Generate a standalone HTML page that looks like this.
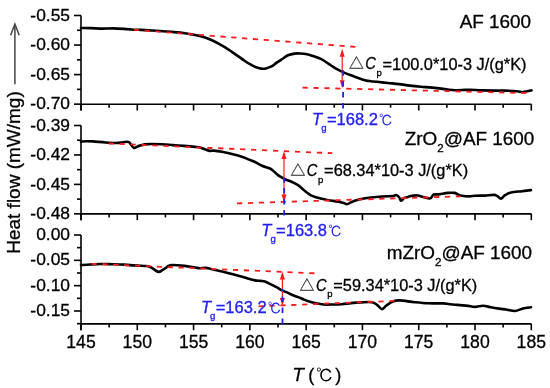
<!DOCTYPE html><html><head><meta charset="utf-8"><style>html,body{margin:0;padding:0;background:#fff;overflow:hidden}svg{display:block}</style></head><body>
<svg width="550" height="388" viewBox="0 0 550 388">
<rect width="550" height="388" fill="#fff"/>
<path d="M81.00,28.00 C82.67,28.02 87.50,28.00 91.00,28.10 C94.50,28.20 98.33,28.55 102.00,28.60 C105.67,28.65 109.33,28.35 113.00,28.40 C116.67,28.45 121.17,28.73 124.00,28.90 C126.83,29.07 128.17,29.25 130.00,29.40 C131.83,29.55 133.17,29.73 135.00,29.80 C136.83,29.88 138.17,29.73 141.00,29.85 C143.83,29.97 148.33,30.26 152.00,30.50 C155.67,30.74 159.33,31.03 163.00,31.30 C166.67,31.57 170.33,31.78 174.00,32.10 C177.67,32.42 182.33,32.87 185.00,33.20 C187.67,33.53 187.33,33.58 190.00,34.10 C192.67,34.62 197.33,35.27 201.00,36.30 C204.67,37.33 208.33,38.65 212.00,40.30 C215.67,41.95 219.33,44.03 223.00,46.20 C226.67,48.37 230.42,50.88 234.00,53.30 C237.58,55.72 241.83,58.88 244.50,60.70 C247.17,62.52 248.17,63.15 250.00,64.20 C251.83,65.25 253.67,66.27 255.50,67.00 C257.33,67.73 259.25,68.37 261.00,68.60 C262.75,68.83 264.17,68.80 266.00,68.40 C267.83,68.00 270.17,67.20 272.00,66.20 C273.83,65.20 275.17,63.68 277.00,62.40 C278.83,61.12 281.17,59.68 283.00,58.50 C284.83,57.32 286.08,56.12 288.00,55.30 C289.92,54.48 292.50,53.90 294.50,53.60 C296.50,53.30 297.92,53.40 300.00,53.50 C302.08,53.60 304.67,53.73 307.00,54.20 C309.33,54.67 311.62,55.48 314.00,56.30 C316.38,57.12 318.97,57.92 321.30,59.10 C323.63,60.28 325.63,61.85 328.00,63.40 C330.37,64.95 333.08,66.98 335.50,68.40 C337.92,69.82 340.15,70.83 342.50,71.90 C344.85,72.97 347.23,73.88 349.60,74.80 C351.97,75.72 353.97,76.45 356.70,77.40 C359.43,78.35 363.62,79.87 366.00,80.50 C368.38,81.13 369.17,80.98 371.00,81.20 C372.83,81.42 374.17,81.50 377.00,81.80 C379.83,82.10 384.33,82.62 388.00,83.00 C391.67,83.38 395.33,83.67 399.00,84.10 C402.67,84.53 406.33,85.17 410.00,85.60 C413.67,86.03 417.33,86.37 421.00,86.70 C424.67,87.03 428.33,87.23 432.00,87.60 C435.67,87.97 440.17,88.53 443.00,88.90 C445.83,89.27 447.00,89.58 449.00,89.80 C451.00,90.02 452.33,90.18 455.00,90.20 C457.67,90.22 462.50,89.97 465.00,89.90 C467.50,89.83 467.17,89.72 470.00,89.80 C472.83,89.88 478.00,90.27 482.00,90.40 C486.00,90.53 490.17,90.57 494.00,90.60 C497.83,90.63 501.17,90.50 505.00,90.60 C508.83,90.70 514.17,90.95 517.00,91.20 C519.83,91.45 520.33,92.10 522.00,92.10 C523.67,92.10 525.42,91.48 527.00,91.20 C528.58,90.92 530.75,90.53 531.50,90.40" fill="none" stroke="#000" stroke-width="2.6" stroke-linejoin="round" stroke-linecap="round"/>
<path d="M81.00,141.60 C81.90,141.53 84.45,141.23 86.40,141.20 C88.35,141.17 89.52,141.18 92.70,141.40 C95.88,141.62 101.68,142.23 105.50,142.50 C109.32,142.77 112.85,143.00 115.60,143.00 C118.35,143.00 120.10,142.72 122.00,142.50 C123.90,142.28 125.75,141.70 127.00,141.70 C128.25,141.70 128.83,142.02 129.50,142.50 C130.17,142.98 130.25,143.70 131.00,144.60 C131.75,145.50 132.95,147.57 134.00,147.90 C135.05,148.23 136.30,146.98 137.30,146.60 C138.30,146.22 138.72,145.97 140.00,145.60 C141.28,145.23 143.17,144.67 145.00,144.40 C146.83,144.13 148.17,144.02 151.00,144.00 C153.83,143.98 158.33,144.12 162.00,144.30 C165.67,144.48 169.33,144.83 173.00,145.10 C176.67,145.37 180.33,145.60 184.00,145.90 C187.67,146.20 192.33,146.62 195.00,146.90 C197.67,147.18 198.25,147.15 200.00,147.60 C201.75,148.05 203.87,149.05 205.50,149.60 C207.13,150.15 208.38,150.73 209.80,150.90 C211.22,151.07 211.97,150.45 214.00,150.60 C216.03,150.75 218.83,151.20 222.00,151.80 C225.17,152.40 229.33,153.27 233.00,154.20 C236.67,155.13 241.33,156.50 244.00,157.40 C246.67,158.30 247.17,158.83 249.00,159.60 C250.83,160.37 252.83,160.97 255.00,162.00 C257.17,163.03 259.50,164.72 262.00,165.80 C264.50,166.88 268.00,167.53 270.00,168.50 C272.00,169.47 272.67,170.50 274.00,171.60 C275.33,172.70 276.50,174.00 278.00,175.10 C279.50,176.20 281.67,177.43 283.00,178.20 C284.33,178.97 284.50,179.07 286.00,179.70 C287.50,180.33 290.00,181.10 292.00,182.00 C294.00,182.90 296.33,184.03 298.00,185.10 C299.67,186.17 300.75,187.33 302.00,188.40 C303.25,189.47 304.00,190.35 305.50,191.50 C307.00,192.65 309.25,194.35 311.00,195.30 C312.75,196.25 314.17,196.62 316.00,197.20 C317.83,197.78 320.17,198.33 322.00,198.80 C323.83,199.27 325.17,199.65 327.00,200.00 C328.83,200.35 331.17,200.60 333.00,200.90 C334.83,201.20 336.23,201.47 338.00,201.80 C339.77,202.13 342.10,202.50 343.60,202.90 C345.10,203.30 345.77,204.28 347.00,204.20 C348.23,204.12 349.58,203.02 351.00,202.40 C352.42,201.78 354.00,201.03 355.50,200.50 C357.00,199.97 357.42,199.70 360.00,199.20 C362.58,198.70 367.33,197.95 371.00,197.50 C374.67,197.05 378.33,196.73 382.00,196.50 C385.67,196.27 390.67,196.35 393.00,196.10 C395.33,195.85 395.00,194.85 396.00,195.00 C397.00,195.15 398.17,196.03 399.00,197.00 C399.83,197.97 400.17,200.60 401.00,200.80 C401.83,201.00 402.83,198.85 404.00,198.20 C405.17,197.55 406.67,197.32 408.00,196.90 C409.33,196.48 410.33,195.93 412.00,195.70 C413.67,195.47 416.33,195.32 418.00,195.50 C419.67,195.68 420.67,196.42 422.00,196.80 C423.33,197.18 424.83,197.52 426.00,197.80 C427.17,198.08 428.17,198.47 429.00,198.50 C429.83,198.53 430.25,198.63 431.00,198.00 C431.75,197.37 432.50,195.30 433.50,194.70 C434.50,194.10 435.92,194.50 437.00,194.40 C438.08,194.30 438.17,194.35 440.00,194.10 C441.83,193.85 445.58,193.10 448.00,192.90 C450.42,192.70 452.92,192.67 454.50,192.90 C456.08,193.13 456.25,193.82 457.50,194.30 C458.75,194.78 460.08,195.45 462.00,195.80 C463.92,196.15 466.83,196.40 469.00,196.40 C471.17,196.40 473.17,195.93 475.00,195.80 C476.83,195.67 478.33,195.63 480.00,195.60 C481.67,195.57 482.67,195.72 485.00,195.60 C487.33,195.48 491.92,194.80 494.00,194.90 C496.08,195.00 496.33,195.58 497.50,196.20 C498.67,196.82 499.75,198.77 501.00,198.60 C502.25,198.43 503.33,196.23 505.00,195.20 C506.67,194.17 508.17,193.07 511.00,192.40 C513.83,191.73 518.67,191.58 522.00,191.20 C525.33,190.82 529.50,190.28 531.00,190.10" fill="none" stroke="#000" stroke-width="2.6" stroke-linejoin="round" stroke-linecap="round"/>
<path d="M81.00,265.10 C82.50,265.00 86.67,264.68 90.00,264.50 C93.33,264.32 97.33,264.05 101.00,264.00 C104.67,263.95 108.17,264.10 112.00,264.20 C115.83,264.30 120.33,264.40 124.00,264.60 C127.67,264.80 131.33,265.22 134.00,265.40 C136.67,265.58 138.17,265.60 140.00,265.70 C141.83,265.80 143.50,265.87 145.00,266.00 C146.50,266.13 147.67,266.07 149.00,266.50 C150.33,266.93 151.42,267.70 153.00,268.60 C154.58,269.50 156.83,271.72 158.50,271.90 C160.17,272.08 161.33,270.68 163.00,269.70 C164.67,268.72 167.00,266.78 168.50,266.00 C170.00,265.22 169.33,265.02 172.00,265.00 C174.67,264.98 180.67,265.48 184.50,265.90 C188.33,266.32 192.42,267.12 195.00,267.50 C197.58,267.88 198.25,268.13 200.00,268.20 C201.75,268.27 203.67,267.78 205.50,267.90 C207.33,268.02 208.25,268.30 211.00,268.90 C213.75,269.50 218.33,270.62 222.00,271.50 C225.67,272.38 229.33,273.25 233.00,274.20 C236.67,275.15 241.25,276.38 244.00,277.20 C246.75,278.02 247.67,278.57 249.50,279.10 C251.33,279.63 253.17,280.10 255.00,280.40 C256.83,280.70 258.83,280.73 260.50,280.90 C262.17,281.07 263.25,280.82 265.00,281.40 C266.75,281.98 269.00,283.40 271.00,284.40 C273.00,285.40 275.17,286.40 277.00,287.40 C278.83,288.40 280.17,289.48 282.00,290.40 C283.83,291.32 286.17,292.08 288.00,292.90 C289.83,293.72 291.17,294.55 293.00,295.30 C294.83,296.05 297.17,296.68 299.00,297.40 C300.83,298.12 302.17,298.87 304.00,299.60 C305.83,300.33 308.17,301.22 310.00,301.80 C311.83,302.38 312.73,302.65 315.00,303.10 C317.27,303.55 320.65,304.27 323.60,304.50 C326.55,304.73 329.67,304.55 332.70,304.50 C335.73,304.45 338.77,304.43 341.80,304.20 C344.83,303.97 347.72,303.40 350.90,303.10 C354.08,302.80 357.42,302.55 360.90,302.40 C364.38,302.25 369.07,301.75 371.80,302.20 C374.53,302.65 375.63,303.95 377.30,305.10 C378.97,306.25 380.28,309.03 381.80,309.10 C383.32,309.17 384.58,306.77 386.40,305.50 C388.22,304.23 390.50,302.35 392.70,301.50 C394.90,300.65 395.97,300.28 399.60,300.40 C403.23,300.52 409.77,301.72 414.50,302.20 C419.23,302.68 423.15,303.10 428.00,303.30 C432.85,303.50 439.93,303.23 443.60,303.40 C447.27,303.57 446.27,303.93 450.00,304.30 C453.73,304.67 461.92,305.17 466.00,305.60 C470.08,306.03 471.67,306.88 474.50,306.90 C477.33,306.92 480.25,305.63 483.00,305.70 C485.75,305.77 488.33,306.82 491.00,307.30 C493.67,307.78 496.33,308.20 499.00,308.60 C501.67,309.00 504.33,309.30 507.00,309.70 C509.67,310.10 512.33,311.20 515.00,311.00 C517.67,310.80 520.33,309.12 523.00,308.50 C525.67,307.88 529.67,307.50 531.00,307.30" fill="none" stroke="#000" stroke-width="2.6" stroke-linejoin="round" stroke-linecap="round"/>
<line x1="133.9" y1="29.8" x2="357.9" y2="47.1" stroke="#ff1a1a" stroke-width="1.8" stroke-dasharray="5.2 5.65"/>
<line x1="302.5" y1="87.6" x2="526.5" y2="93.1" stroke="#ff1a1a" stroke-width="1.8" stroke-dasharray="5.2 5.73"/>
<line x1="108.6" y1="143.5" x2="332.2" y2="153.2" stroke="#ff1a1a" stroke-width="1.8" stroke-dasharray="5.2 5.77"/>
<line x1="237.0" y1="203.4" x2="460.6" y2="196.3" stroke="#ff1a1a" stroke-width="1.8" stroke-dasharray="5.2 5.75"/>
<line x1="91.4" y1="263.8" x2="315.5" y2="273.3" stroke="#ff1a1a" stroke-width="1.8" stroke-dasharray="5.2 5.70"/>
<line x1="258.6" y1="306.3" x2="394.6" y2="300.9" stroke="#ff1a1a" stroke-width="1.8" stroke-dasharray="5.2 5.70"/>
<line x1="81" y1="15.5" x2="81" y2="110.5" stroke="#000" stroke-width="1.6"/>
<line x1="80.2" y1="104.2" x2="531.5" y2="104.2" stroke="#000" stroke-width="1.6"/>
<line x1="74" y1="15.50" x2="81" y2="15.50" stroke="#000" stroke-width="1.6"/>
<line x1="77" y1="30.27" x2="81" y2="30.27" stroke="#000" stroke-width="1.6"/>
<line x1="74" y1="45.05" x2="81" y2="45.05" stroke="#000" stroke-width="1.6"/>
<line x1="77" y1="59.82" x2="81" y2="59.82" stroke="#000" stroke-width="1.6"/>
<line x1="74" y1="74.60" x2="81" y2="74.60" stroke="#000" stroke-width="1.6"/>
<line x1="77" y1="89.38" x2="81" y2="89.38" stroke="#000" stroke-width="1.6"/>
<line x1="74" y1="104.15" x2="81" y2="104.15" stroke="#000" stroke-width="1.6"/>
<text x="70" y="20.60" text-anchor="end" font-family='"Liberation Sans", Arial, "Noto Sans CJK SC", sans-serif' font-size="17.4" fill="#000" stroke="#000" stroke-width="0.3">-0.55</text>
<text x="70" y="50.15" text-anchor="end" font-family='"Liberation Sans", Arial, "Noto Sans CJK SC", sans-serif' font-size="17.4" fill="#000" stroke="#000" stroke-width="0.3">-0.60</text>
<text x="70" y="79.70" text-anchor="end" font-family='"Liberation Sans", Arial, "Noto Sans CJK SC", sans-serif' font-size="17.4" fill="#000" stroke="#000" stroke-width="0.3">-0.65</text>
<text x="70" y="109.25" text-anchor="end" font-family='"Liberation Sans", Arial, "Noto Sans CJK SC", sans-serif' font-size="17.4" fill="#000" stroke="#000" stroke-width="0.3">-0.70</text>
<line x1="81.00" y1="104.2" x2="81.00" y2="110.5" stroke="#000" stroke-width="1.6"/>
<line x1="109.14" y1="104.2" x2="109.14" y2="107.7" stroke="#000" stroke-width="1.6"/>
<line x1="137.29" y1="104.2" x2="137.29" y2="110.5" stroke="#000" stroke-width="1.6"/>
<line x1="165.43" y1="104.2" x2="165.43" y2="107.7" stroke="#000" stroke-width="1.6"/>
<line x1="193.57" y1="104.2" x2="193.57" y2="110.5" stroke="#000" stroke-width="1.6"/>
<line x1="221.72" y1="104.2" x2="221.72" y2="107.7" stroke="#000" stroke-width="1.6"/>
<line x1="249.86" y1="104.2" x2="249.86" y2="110.5" stroke="#000" stroke-width="1.6"/>
<line x1="278.01" y1="104.2" x2="278.01" y2="107.7" stroke="#000" stroke-width="1.6"/>
<line x1="306.15" y1="104.2" x2="306.15" y2="110.5" stroke="#000" stroke-width="1.6"/>
<line x1="334.29" y1="104.2" x2="334.29" y2="107.7" stroke="#000" stroke-width="1.6"/>
<line x1="362.44" y1="104.2" x2="362.44" y2="110.5" stroke="#000" stroke-width="1.6"/>
<line x1="390.58" y1="104.2" x2="390.58" y2="107.7" stroke="#000" stroke-width="1.6"/>
<line x1="418.73" y1="104.2" x2="418.73" y2="110.5" stroke="#000" stroke-width="1.6"/>
<line x1="446.87" y1="104.2" x2="446.87" y2="107.7" stroke="#000" stroke-width="1.6"/>
<line x1="475.01" y1="104.2" x2="475.01" y2="110.5" stroke="#000" stroke-width="1.6"/>
<line x1="503.16" y1="104.2" x2="503.16" y2="107.7" stroke="#000" stroke-width="1.6"/>
<line x1="531.30" y1="104.2" x2="531.30" y2="110.5" stroke="#000" stroke-width="1.6"/>
<line x1="81" y1="125.5" x2="81" y2="220.20000000000002" stroke="#000" stroke-width="1.6"/>
<line x1="80.2" y1="213.9" x2="531.5" y2="213.9" stroke="#000" stroke-width="1.6"/>
<line x1="74" y1="125.50" x2="81" y2="125.50" stroke="#000" stroke-width="1.6"/>
<line x1="77" y1="140.22" x2="81" y2="140.22" stroke="#000" stroke-width="1.6"/>
<line x1="74" y1="154.95" x2="81" y2="154.95" stroke="#000" stroke-width="1.6"/>
<line x1="77" y1="169.67" x2="81" y2="169.67" stroke="#000" stroke-width="1.6"/>
<line x1="74" y1="184.40" x2="81" y2="184.40" stroke="#000" stroke-width="1.6"/>
<line x1="77" y1="199.12" x2="81" y2="199.12" stroke="#000" stroke-width="1.6"/>
<line x1="74" y1="213.85" x2="81" y2="213.85" stroke="#000" stroke-width="1.6"/>
<text x="70" y="130.60" text-anchor="end" font-family='"Liberation Sans", Arial, "Noto Sans CJK SC", sans-serif' font-size="17.4" fill="#000" stroke="#000" stroke-width="0.3">-0.39</text>
<text x="70" y="160.05" text-anchor="end" font-family='"Liberation Sans", Arial, "Noto Sans CJK SC", sans-serif' font-size="17.4" fill="#000" stroke="#000" stroke-width="0.3">-0.42</text>
<text x="70" y="189.50" text-anchor="end" font-family='"Liberation Sans", Arial, "Noto Sans CJK SC", sans-serif' font-size="17.4" fill="#000" stroke="#000" stroke-width="0.3">-0.45</text>
<text x="70" y="218.95" text-anchor="end" font-family='"Liberation Sans", Arial, "Noto Sans CJK SC", sans-serif' font-size="17.4" fill="#000" stroke="#000" stroke-width="0.3">-0.48</text>
<line x1="81.00" y1="213.9" x2="81.00" y2="220.20000000000002" stroke="#000" stroke-width="1.6"/>
<line x1="109.14" y1="213.9" x2="109.14" y2="217.4" stroke="#000" stroke-width="1.6"/>
<line x1="137.29" y1="213.9" x2="137.29" y2="220.20000000000002" stroke="#000" stroke-width="1.6"/>
<line x1="165.43" y1="213.9" x2="165.43" y2="217.4" stroke="#000" stroke-width="1.6"/>
<line x1="193.57" y1="213.9" x2="193.57" y2="220.20000000000002" stroke="#000" stroke-width="1.6"/>
<line x1="221.72" y1="213.9" x2="221.72" y2="217.4" stroke="#000" stroke-width="1.6"/>
<line x1="249.86" y1="213.9" x2="249.86" y2="220.20000000000002" stroke="#000" stroke-width="1.6"/>
<line x1="278.01" y1="213.9" x2="278.01" y2="217.4" stroke="#000" stroke-width="1.6"/>
<line x1="306.15" y1="213.9" x2="306.15" y2="220.20000000000002" stroke="#000" stroke-width="1.6"/>
<line x1="334.29" y1="213.9" x2="334.29" y2="217.4" stroke="#000" stroke-width="1.6"/>
<line x1="362.44" y1="213.9" x2="362.44" y2="220.20000000000002" stroke="#000" stroke-width="1.6"/>
<line x1="390.58" y1="213.9" x2="390.58" y2="217.4" stroke="#000" stroke-width="1.6"/>
<line x1="418.73" y1="213.9" x2="418.73" y2="220.20000000000002" stroke="#000" stroke-width="1.6"/>
<line x1="446.87" y1="213.9" x2="446.87" y2="217.4" stroke="#000" stroke-width="1.6"/>
<line x1="475.01" y1="213.9" x2="475.01" y2="220.20000000000002" stroke="#000" stroke-width="1.6"/>
<line x1="503.16" y1="213.9" x2="503.16" y2="217.4" stroke="#000" stroke-width="1.6"/>
<line x1="531.30" y1="213.9" x2="531.30" y2="220.20000000000002" stroke="#000" stroke-width="1.6"/>
<line x1="81" y1="235.0" x2="81" y2="330.2" stroke="#000" stroke-width="1.6"/>
<line x1="80.2" y1="323.9" x2="531.5" y2="323.9" stroke="#000" stroke-width="1.6"/>
<line x1="74" y1="235.00" x2="81" y2="235.00" stroke="#000" stroke-width="1.6"/>
<line x1="77" y1="247.66" x2="81" y2="247.66" stroke="#000" stroke-width="1.6"/>
<line x1="74" y1="260.33" x2="81" y2="260.33" stroke="#000" stroke-width="1.6"/>
<line x1="77" y1="273.00" x2="81" y2="273.00" stroke="#000" stroke-width="1.6"/>
<line x1="74" y1="285.66" x2="81" y2="285.66" stroke="#000" stroke-width="1.6"/>
<line x1="77" y1="298.33" x2="81" y2="298.33" stroke="#000" stroke-width="1.6"/>
<line x1="74" y1="310.99" x2="81" y2="310.99" stroke="#000" stroke-width="1.6"/>
<line x1="77" y1="323.66" x2="81" y2="323.66" stroke="#000" stroke-width="1.6"/>
<text x="70" y="240.10" text-anchor="end" font-family='"Liberation Sans", Arial, "Noto Sans CJK SC", sans-serif' font-size="17.4" fill="#000" stroke="#000" stroke-width="0.3">0.00</text>
<text x="70" y="265.43" text-anchor="end" font-family='"Liberation Sans", Arial, "Noto Sans CJK SC", sans-serif' font-size="17.4" fill="#000" stroke="#000" stroke-width="0.3">-0.05</text>
<text x="70" y="290.76" text-anchor="end" font-family='"Liberation Sans", Arial, "Noto Sans CJK SC", sans-serif' font-size="17.4" fill="#000" stroke="#000" stroke-width="0.3">-0.10</text>
<text x="70" y="316.09" text-anchor="end" font-family='"Liberation Sans", Arial, "Noto Sans CJK SC", sans-serif' font-size="17.4" fill="#000" stroke="#000" stroke-width="0.3">-0.15</text>
<line x1="81.00" y1="323.9" x2="81.00" y2="330.2" stroke="#000" stroke-width="1.6"/>
<line x1="109.14" y1="323.9" x2="109.14" y2="327.4" stroke="#000" stroke-width="1.6"/>
<line x1="137.29" y1="323.9" x2="137.29" y2="330.2" stroke="#000" stroke-width="1.6"/>
<line x1="165.43" y1="323.9" x2="165.43" y2="327.4" stroke="#000" stroke-width="1.6"/>
<line x1="193.57" y1="323.9" x2="193.57" y2="330.2" stroke="#000" stroke-width="1.6"/>
<line x1="221.72" y1="323.9" x2="221.72" y2="327.4" stroke="#000" stroke-width="1.6"/>
<line x1="249.86" y1="323.9" x2="249.86" y2="330.2" stroke="#000" stroke-width="1.6"/>
<line x1="278.01" y1="323.9" x2="278.01" y2="327.4" stroke="#000" stroke-width="1.6"/>
<line x1="306.15" y1="323.9" x2="306.15" y2="330.2" stroke="#000" stroke-width="1.6"/>
<line x1="334.29" y1="323.9" x2="334.29" y2="327.4" stroke="#000" stroke-width="1.6"/>
<line x1="362.44" y1="323.9" x2="362.44" y2="330.2" stroke="#000" stroke-width="1.6"/>
<line x1="390.58" y1="323.9" x2="390.58" y2="327.4" stroke="#000" stroke-width="1.6"/>
<line x1="418.73" y1="323.9" x2="418.73" y2="330.2" stroke="#000" stroke-width="1.6"/>
<line x1="446.87" y1="323.9" x2="446.87" y2="327.4" stroke="#000" stroke-width="1.6"/>
<line x1="475.01" y1="323.9" x2="475.01" y2="330.2" stroke="#000" stroke-width="1.6"/>
<line x1="503.16" y1="323.9" x2="503.16" y2="327.4" stroke="#000" stroke-width="1.6"/>
<line x1="531.30" y1="323.9" x2="531.30" y2="330.2" stroke="#000" stroke-width="1.6"/>
<text x="81.00" y="348" text-anchor="middle" font-family='"Liberation Sans", Arial, "Noto Sans CJK SC", sans-serif' font-size="17.6" fill="#000" stroke="#000" stroke-width="0.3">145</text>
<text x="137.29" y="348" text-anchor="middle" font-family='"Liberation Sans", Arial, "Noto Sans CJK SC", sans-serif' font-size="17.6" fill="#000" stroke="#000" stroke-width="0.3">150</text>
<text x="193.57" y="348" text-anchor="middle" font-family='"Liberation Sans", Arial, "Noto Sans CJK SC", sans-serif' font-size="17.6" fill="#000" stroke="#000" stroke-width="0.3">155</text>
<text x="249.86" y="348" text-anchor="middle" font-family='"Liberation Sans", Arial, "Noto Sans CJK SC", sans-serif' font-size="17.6" fill="#000" stroke="#000" stroke-width="0.3">160</text>
<text x="306.15" y="348" text-anchor="middle" font-family='"Liberation Sans", Arial, "Noto Sans CJK SC", sans-serif' font-size="17.6" fill="#000" stroke="#000" stroke-width="0.3">165</text>
<text x="362.44" y="348" text-anchor="middle" font-family='"Liberation Sans", Arial, "Noto Sans CJK SC", sans-serif' font-size="17.6" fill="#000" stroke="#000" stroke-width="0.3">170</text>
<text x="418.73" y="348" text-anchor="middle" font-family='"Liberation Sans", Arial, "Noto Sans CJK SC", sans-serif' font-size="17.6" fill="#000" stroke="#000" stroke-width="0.3">175</text>
<text x="475.01" y="348" text-anchor="middle" font-family='"Liberation Sans", Arial, "Noto Sans CJK SC", sans-serif' font-size="17.6" fill="#000" stroke="#000" stroke-width="0.3">180</text>
<text x="531.30" y="348" text-anchor="middle" font-family='"Liberation Sans", Arial, "Noto Sans CJK SC", sans-serif' font-size="17.6" fill="#000" stroke="#000" stroke-width="0.3">185</text>
<text x="531.1" y="27.75" text-anchor="end" font-family='"Liberation Sans", Arial, "Noto Sans CJK SC", sans-serif' font-size="18.9" fill="#000" stroke="#000" stroke-width="0.3">AF 1600</text>
<text x="534.3" y="145" text-anchor="end" font-family='"Liberation Sans", Arial, "Noto Sans CJK SC", sans-serif' font-size="18.9" fill="#000" stroke="#000" stroke-width="0.3">ZrO<tspan font-size="11.6" dy="7.2">2</tspan><tspan dy="-7.2">@AF 1600</tspan></text>
<text x="532.1" y="259" text-anchor="end" font-family='"Liberation Sans", Arial, "Noto Sans CJK SC", sans-serif' font-size="18.9" fill="#000" stroke="#000" stroke-width="0.3">mZrO<tspan font-size="11.6" dy="7.2">2</tspan><tspan dy="-7.2">@AF 1600</tspan></text>
<text transform="translate(348.88,68.30) scale(1,0.885)" font-family='"Noto Sans CJK SC", sans-serif' font-size="14.85" fill="#444" stroke="#444" stroke-width="0.35">△</text><text transform="translate(365.20,69.30) scale(0.9,1)" font-family='"Liberation Sans", Arial, "Noto Sans CJK SC", sans-serif' font-size="16.35" font-style="italic" fill="#000" stroke="#000" stroke-width="0.3">C</text><text x="376.40" y="75.90" font-family='"Liberation Sans", Arial, "Noto Sans CJK SC", sans-serif' font-size="9.5" fill="#000" stroke="#000" stroke-width="0.3">p</text><text x="382.50" y="69.50" font-family='"Liberation Sans", Arial, "Noto Sans CJK SC", sans-serif' font-size="16.35" fill="#000" stroke="#000" stroke-width="0.3">=100.0*10-3 J/(g*K)</text>
<text transform="translate(290.38,175.00) scale(1,0.885)" font-family='"Noto Sans CJK SC", sans-serif' font-size="14.85" fill="#444" stroke="#444" stroke-width="0.35">△</text><text transform="translate(306.80,175.90) scale(0.9,1)" font-family='"Liberation Sans", Arial, "Noto Sans CJK SC", sans-serif' font-size="16.35" font-style="italic" fill="#000" stroke="#000" stroke-width="0.3">C</text><text x="318.00" y="182.50" font-family='"Liberation Sans", Arial, "Noto Sans CJK SC", sans-serif' font-size="9.5" fill="#000" stroke="#000" stroke-width="0.3">p</text><text x="324.10" y="176.10" font-family='"Liberation Sans", Arial, "Noto Sans CJK SC", sans-serif' font-size="16.35" fill="#000" stroke="#000" stroke-width="0.3">=68.34*10-3 J/(g*K)</text>
<text transform="translate(299.58,289.80) scale(1,0.885)" font-family='"Noto Sans CJK SC", sans-serif' font-size="14.85" fill="#444" stroke="#444" stroke-width="0.35">△</text><text transform="translate(316.00,290.70) scale(0.9,1)" font-family='"Liberation Sans", Arial, "Noto Sans CJK SC", sans-serif' font-size="16.35" font-style="italic" fill="#000" stroke="#000" stroke-width="0.3">C</text><text x="327.20" y="297.30" font-family='"Liberation Sans", Arial, "Noto Sans CJK SC", sans-serif' font-size="9.5" fill="#000" stroke="#000" stroke-width="0.3">p</text><text x="333.30" y="290.90" font-family='"Liberation Sans", Arial, "Noto Sans CJK SC", sans-serif' font-size="16.35" fill="#000" stroke="#000" stroke-width="0.3">=59.34*10-3 J/(g*K)</text>
<text x="312.08" y="124.8" font-family='"Liberation Sans", Arial, "Noto Sans CJK SC", sans-serif' font-size="16.5" font-style="italic" fill="#2020f5" stroke="#2020f5" stroke-width="0.3">T</text><text x="321.30" y="131.10" font-family='"Liberation Sans", Arial, "Noto Sans CJK SC", sans-serif' font-size="9.6" fill="#2020f5" stroke="#2020f5" stroke-width="0.3">g</text><text x="326.90" y="124.8" font-family='"Liberation Sans", Arial, "Noto Sans CJK SC", sans-serif' font-size="16.5" fill="#2020f5" stroke="#2020f5" stroke-width="0.3">=168.2</text><text transform="translate(379.00,125.55) scale(0.93,1)" font-family='"IPAGothic", "Noto Sans CJK JP", sans-serif' font-size="15" fill="#2020f5">℃</text>
<text x="261.28" y="235.8" font-family='"Liberation Sans", Arial, "Noto Sans CJK SC", sans-serif' font-size="16.5" font-style="italic" fill="#2020f5" stroke="#2020f5" stroke-width="0.3">T</text><text x="270.50" y="242.10" font-family='"Liberation Sans", Arial, "Noto Sans CJK SC", sans-serif' font-size="9.6" fill="#2020f5" stroke="#2020f5" stroke-width="0.3">g</text><text x="276.10" y="235.8" font-family='"Liberation Sans", Arial, "Noto Sans CJK SC", sans-serif' font-size="16.5" fill="#2020f5" stroke="#2020f5" stroke-width="0.3">=163.8</text><text transform="translate(328.20,236.55) scale(0.93,1)" font-family='"IPAGothic", "Noto Sans CJK JP", sans-serif' font-size="15" fill="#2020f5">℃</text>
<text x="200.88" y="312.8" font-family='"Liberation Sans", Arial, "Noto Sans CJK SC", sans-serif' font-size="16.5" font-style="italic" fill="#2020f5" stroke="#2020f5" stroke-width="0.3">T</text><text x="210.10" y="319.10" font-family='"Liberation Sans", Arial, "Noto Sans CJK SC", sans-serif' font-size="9.6" fill="#2020f5" stroke="#2020f5" stroke-width="0.3">g</text><text x="215.70" y="312.8" font-family='"Liberation Sans", Arial, "Noto Sans CJK SC", sans-serif' font-size="16.5" fill="#2020f5" stroke="#2020f5" stroke-width="0.3">=163.2</text><text transform="translate(267.80,313.55) scale(0.93,1)" font-family='"IPAGothic", "Noto Sans CJK JP", sans-serif' font-size="15" fill="#2020f5">℃</text>
<line x1="342.2" y1="54.8" x2="342.2" y2="82.3" stroke="#ff1a1a" stroke-width="1.2"/><path d="M342.2,48.8 L339.7,56.8 L344.7,56.8 Z" fill="#ff1a1a"/><path d="M342.2,88.3 L339.7,80.3 L344.7,80.3 Z" fill="#ff1a1a"/>
<line x1="284.0" y1="157.0" x2="284.0" y2="196.5" stroke="#ff1a1a" stroke-width="1.2"/><path d="M284.0,151.0 L281.5,159.0 L286.5,159.0 Z" fill="#ff1a1a"/><path d="M284.0,202.5 L281.5,194.5 L286.5,194.5 Z" fill="#ff1a1a"/>
<line x1="282.4" y1="277.4" x2="282.4" y2="300.0" stroke="#ff1a1a" stroke-width="1.2"/><path d="M282.4,271.4 L279.9,279.4 L284.9,279.4 Z" fill="#ff1a1a"/><path d="M282.4,306.0 L279.9,298.0 L284.9,298.0 Z" fill="#ff1a1a"/>
<line x1="343.1" y1="70.3" x2="343.1" y2="108.5" stroke="#2020f5" stroke-width="1.8" stroke-dasharray="5.5 5.4" stroke-dashoffset="0"/>
<line x1="284.2" y1="178.2" x2="284.2" y2="215.4" stroke="#2020f5" stroke-width="1.8" stroke-dasharray="5.5 5.4" stroke-dashoffset="1.0"/>
<line x1="282.5" y1="289.0" x2="282.5" y2="324" stroke="#2020f5" stroke-width="1.8" stroke-dasharray="5.5 5.4" stroke-dashoffset="3.3"/>
<text transform="translate(19.9,253.8) rotate(-90)" font-family='"Liberation Sans", Arial, "Noto Sans CJK SC", sans-serif' font-size="19" fill="#000" stroke="#000" stroke-width="0.3">Heat flow (mW/mg)</text>
<line x1="14.9" y1="25" x2="14.9" y2="84.2" stroke="#444" stroke-width="1.5"/>
<path d="M10.6,35.3 L14.9,24 L19.2,35.3" fill="none" stroke="#444" stroke-width="1.5" stroke-linejoin="miter"/>
<text x="292.2" y="380.8" font-family='"Liberation Sans", Arial, "Noto Sans CJK SC", sans-serif' font-size="19" font-style="italic" fill="#000" stroke="#000" stroke-width="0.3">T</text>
<text x="308.25" y="381" font-family='"Liberation Sans", Arial, "Noto Sans CJK SC", sans-serif' font-size="18.2" fill="#000" stroke="#000" stroke-width="0.3">(</text>
<text x="316" y="381.6" font-family='"IPAGothic", "Noto Sans CJK JP", sans-serif' font-size="17.5" fill="#000">℃</text>
<text x="335.25" y="381" font-family='"Liberation Sans", Arial, "Noto Sans CJK SC", sans-serif' font-size="18.2" fill="#000" stroke="#000" stroke-width="0.3">)</text>
</svg></body></html>
